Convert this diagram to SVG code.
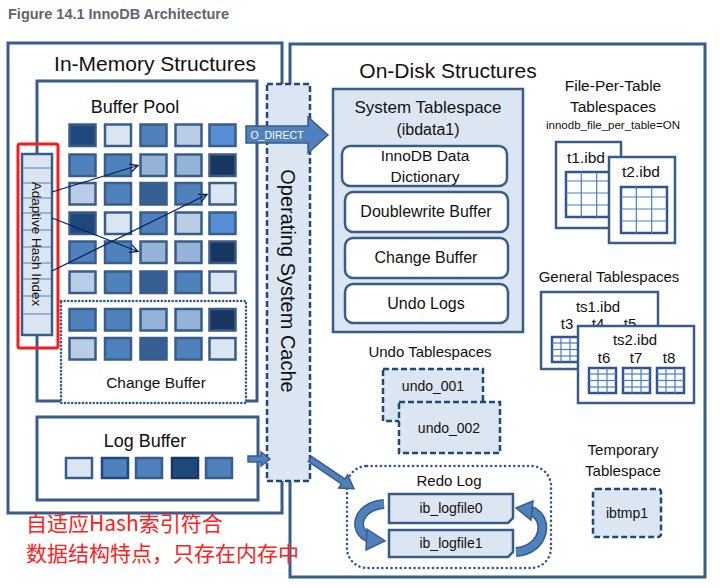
<svg xmlns="http://www.w3.org/2000/svg" width="720" height="588" viewBox="0 0 720 588">
<style>
text{font-family:"Liberation Sans",Arial,sans-serif;fill:#111}
.t{text-anchor:middle}
.box{fill:#fff;stroke:#385d8a;stroke-width:3}
.sq{stroke:#385d8a;stroke-width:2.5}
.D1{fill:#1f497d}.VD{fill:#17375e}.DM{fill:#366092}.M{fill:#4f81bd}.B{fill:#558ed5}.LM{fill:#95b3d7}.L{fill:#b9cde5}.VL{fill:#dce6f2}
.rbox{fill:#fff;stroke:#385d8a;stroke-width:2.5}
.dash{fill:#dce6f2;stroke:#1f497d;stroke-width:2.5;stroke-dasharray:6 3}
.dot{fill:none;stroke:#2f5597;stroke-width:2.5;stroke-dasharray:0.1 4.5;stroke-linecap:round}
.dot2{fill:#fff;stroke:#2f5597;stroke-width:2.5;stroke-dasharray:0.1 3.5;stroke-linecap:round}
.gout{fill:#fff;stroke:#2f5597;stroke-width:2.5}
.gin{stroke:#4a7ebb;stroke-width:1.2}
.blk{fill:#4f81bd;stroke:#385d8a;stroke-width:1.5}
.lnk{fill:none;stroke:#002060;stroke-width:1.3}
.cn{font-family:"Noto Sans CJK SC","Liberation Sans",sans-serif;fill:#ff2020;font-size:21px}
</style>
<defs>
<marker id="ah" markerWidth="10" markerHeight="10" refX="9" refY="5" orient="auto" markerUnits="userSpaceOnUse"><path d="M1,1 L9,5 L1,9" fill="none" stroke="#002060" stroke-width="1.3"/></marker>
</defs>
<rect width="720" height="588" fill="#fff"/>
<text x="8" y="19" style="font-weight:bold;font-size:14.5px;fill:#5e6470">Figure 14.1 InnoDB Architecture</text>

<g id="in-memory">
<rect class="box" x="8" y="43" width="274" height="470"/>
<text class="t" x="155" y="71" style="font-size:21px">In-Memory Structures</text>
</g>

<g id="on-disk">
<rect class="box" x="290" y="44" width="415" height="533"/>
<text class="t" x="448" y="78" style="font-size:21px">On-Disk Structures</text>
</g>

<g id="buffer-pool">
<rect class="box" x="37" y="81" width="220" height="320"/>
<text class="t" x="135" y="113" style="font-size:18px">Buffer Pool</text>
<rect class="sq D1" x="69.5" y="124.5" width="26" height="21.5"/>
<rect class="sq VL" x="105" y="124.5" width="26" height="21.5"/>
<rect class="sq M" x="140.5" y="124.5" width="26" height="21.5"/>
<rect class="sq L" x="175.5" y="124.5" width="26" height="21.5"/>
<rect class="sq B" x="209.5" y="124.5" width="26" height="21.5"/>
<rect class="sq M" x="69.5" y="154.5" width="26" height="21.5"/>
<rect class="sq M" x="105" y="154.5" width="26" height="21.5"/>
<rect class="sq LM" x="140.5" y="154.5" width="26" height="21.5"/>
<rect class="sq LM" x="175.5" y="154.5" width="26" height="21.5"/>
<rect class="sq VD" x="209.5" y="154.5" width="26" height="21.5"/>
<rect class="sq L" x="69.5" y="183" width="26" height="21.5"/>
<rect class="sq M" x="105" y="183" width="26" height="21.5"/>
<rect class="sq DM" x="140.5" y="183" width="26" height="21.5"/>
<rect class="sq M" x="175.5" y="183" width="26" height="21.5"/>
<rect class="sq VL" x="209.5" y="183" width="26" height="21.5"/>
<rect class="sq D1" x="69.5" y="212.5" width="26" height="21.5"/>
<rect class="sq VL" x="105" y="212.5" width="26" height="21.5"/>
<rect class="sq M" x="140.5" y="212.5" width="26" height="21.5"/>
<rect class="sq L" x="175.5" y="212.5" width="26" height="21.5"/>
<rect class="sq B" x="209.5" y="212.5" width="26" height="21.5"/>
<rect class="sq M" x="69.5" y="241.5" width="26" height="21.5"/>
<rect class="sq M" x="105" y="241.5" width="26" height="21.5"/>
<rect class="sq LM" x="140.5" y="241.5" width="26" height="21.5"/>
<rect class="sq LM" x="175.5" y="241.5" width="26" height="21.5"/>
<rect class="sq VD" x="209.5" y="241.5" width="26" height="21.5"/>
<rect class="sq L" x="69.5" y="271.5" width="26" height="21.5"/>
<rect class="sq M" x="105" y="271.5" width="26" height="21.5"/>
<rect class="sq DM" x="140.5" y="271.5" width="26" height="21.5"/>
<rect class="sq M" x="175.5" y="271.5" width="26" height="21.5"/>
<rect class="sq VL" x="209.5" y="271.5" width="26" height="21.5"/>
</g>

<g id="change-buffer-mem">
<rect class="dot2" x="61" y="301" width="185" height="102"/>
<rect class="sq M" x="69.5" y="309" width="26" height="21.5"/>
<rect class="sq M" x="105" y="309" width="26" height="21.5"/>
<rect class="sq LM" x="140.5" y="309" width="26" height="21.5"/>
<rect class="sq LM" x="175.5" y="309" width="26" height="21.5"/>
<rect class="sq VD" x="209.5" y="309" width="26" height="21.5"/>
<rect class="sq L" x="69.5" y="338" width="26" height="21.5"/>
<rect class="sq M" x="105" y="338" width="26" height="21.5"/>
<rect class="sq DM" x="140.5" y="338" width="26" height="21.5"/>
<rect class="sq M" x="175.5" y="338" width="26" height="21.5"/>
<rect class="sq VL" x="209.5" y="338" width="26" height="21.5"/>
<text class="t" x="156" y="388" style="font-size:15.5px">Change Buffer</text>
</g>

<g id="adaptive-hash-index">
<rect x="22" y="154" width="30" height="181" fill="#dce6f2" stroke="#385d8a" stroke-width="2.5"/>
<g stroke="#4f81bd" stroke-width="1">
<line x1="23" y1="168" x2="51" y2="168"/><line x1="23" y1="183" x2="51" y2="183"/>
<line x1="23" y1="198" x2="51" y2="198"/><line x1="23" y1="213" x2="51" y2="213"/>
<line x1="23" y1="230" x2="51" y2="230"/><line x1="23" y1="247" x2="51" y2="247"/>
<line x1="23" y1="263" x2="51" y2="263"/><line x1="23" y1="279" x2="51" y2="279"/>
<line x1="23" y1="296" x2="51" y2="296"/><line x1="23" y1="314" x2="51" y2="314"/>
</g>
<text class="t" transform="translate(31.5,244) rotate(90)" style="font-size:13.5px">Adaptive Hash Index</text>
<rect x="18" y="144" width="40" height="204" rx="2" fill="none" stroke="#ff1a1a" stroke-width="3"/>
</g>

<g id="log-buffer">
<rect class="box" x="37" y="417" width="221" height="83"/>
<text class="t" x="145" y="447" style="font-size:18px">Log Buffer</text>
<rect class="sq VL" x="66" y="458" width="26" height="20"/>
<rect x="102" y="458" width="26" height="20" fill="#4f81bd" stroke="#1f497d" stroke-width="2.5"/>
<rect class="sq M" x="136" y="458" width="26" height="20"/>
<rect x="172" y="458" width="26" height="20" fill="#1f497d" stroke="#17375e" stroke-width="2.5"/>
<rect class="sq M" x="206" y="458" width="26" height="20"/>
</g>

<g id="os-cache">
<rect class="dash" x="267" y="84" width="43" height="397"/>
<text class="t" transform="translate(281,281) rotate(90)" style="font-size:20px">Operating System Cache</text>
</g>

<g id="system-tablespace">
<rect x="333" y="89" width="190" height="243" fill="#dce6f2" stroke="#385d8a" stroke-width="2.5"/>
<text class="t" x="428" y="113" style="font-size:17px">System Tablespace</text>
<text class="t" x="428" y="135" style="font-size:16px">(ibdata1)</text>
<rect class="rbox" x="342" y="146" width="165" height="40" rx="8"/>
<text class="t" x="425" y="161" style="font-size:15.5px">InnoDB Data</text>
<text class="t" x="425" y="182" style="font-size:15.5px">Dictionary</text>
<rect class="rbox" x="345" y="192" width="163" height="40" rx="8"/>
<text class="t" x="426" y="217" style="font-size:16px">Doublewrite Buffer</text>
<rect class="rbox" x="345" y="238" width="163" height="40" rx="8"/>
<text class="t" x="426" y="263" style="font-size:16px">Change Buffer</text>
<rect class="rbox" x="345" y="284" width="163" height="39" rx="8"/>
<text class="t" x="426" y="309" style="font-size:16px">Undo Logs</text>
</g>

<g id="file-per-table">
<text class="t" x="613" y="91" style="font-size:15.5px">File-Per-Table</text>
<text class="t" x="613" y="112" style="font-size:15.5px">Tablespaces</text>
<text class="t" x="613" y="129" style="font-size:11.5px">innodb_file_per_table=ON</text>
<rect class="rbox" x="556" y="142" width="65" height="86"/>
<text class="t" x="586" y="163" style="font-size:15.5px">t1.ibd</text>
<rect class="gout" x="566" y="172" width="46" height="45"/>
<g class="gin"><line x1="581.3" y1="172" x2="581.3" y2="217"/><line x1="596.7" y1="172" x2="596.7" y2="217"/><line x1="566" y1="181" x2="612" y2="181"/><line x1="566" y1="193" x2="612" y2="193"/><line x1="566" y1="205" x2="612" y2="205"/></g>
<rect class="rbox" x="609" y="157" width="66" height="86"/>
<text class="t" x="641" y="177" style="font-size:15.5px">t2.ibd</text>
<rect class="gout" x="621" y="187" width="46" height="46"/>
<g class="gin"><line x1="636.3" y1="187" x2="636.3" y2="233"/><line x1="651.7" y1="187" x2="651.7" y2="233"/><line x1="621" y1="197" x2="667" y2="197"/><line x1="621" y1="209" x2="667" y2="209"/><line x1="621" y1="221" x2="667" y2="221"/></g>
</g>

<g id="general-tablespaces">
<text class="t" x="609" y="282" style="font-size:15px">General Tablespaces</text>
<rect class="rbox" x="541" y="292" width="117" height="77"/>
<text class="t" x="598" y="312" style="font-size:15px">ts1.ibd</text>
<text class="t" x="567" y="329" style="font-size:15px">t3</text>
<text class="t" x="598" y="329" style="font-size:15px">t4</text>
<text class="t" x="630" y="329" style="font-size:15px">t5</text>
<rect class="gout" x="552" y="337" width="27" height="25"/>
<g class="gin"><line x1="561" y1="337" x2="561" y2="362"/><line x1="570" y1="337" x2="570" y2="362"/><line x1="552" y1="343" x2="579" y2="343"/><line x1="552" y1="349.5" x2="579" y2="349.5"/><line x1="552" y1="356" x2="579" y2="356"/></g>
<rect class="rbox" x="578" y="326" width="116" height="77"/>
<text class="t" x="635" y="345" style="font-size:15px">ts2.ibd</text>
<text class="t" x="604" y="363" style="font-size:15px">t6</text>
<text class="t" x="636" y="363" style="font-size:15px">t7</text>
<text class="t" x="669" y="363" style="font-size:15px">t8</text>
<rect class="gout" x="589" y="368" width="27" height="25"/>
<g class="gin"><line x1="598" y1="368" x2="598" y2="393"/><line x1="607" y1="368" x2="607" y2="393"/><line x1="589" y1="374" x2="616" y2="374"/><line x1="589" y1="380.5" x2="616" y2="380.5"/><line x1="589" y1="387" x2="616" y2="387"/></g>
<rect class="gout" x="623" y="368" width="27" height="25"/>
<g class="gin"><line x1="632" y1="368" x2="632" y2="393"/><line x1="641" y1="368" x2="641" y2="393"/><line x1="623" y1="374" x2="650" y2="374"/><line x1="623" y1="380.5" x2="650" y2="380.5"/><line x1="623" y1="387" x2="650" y2="387"/></g>
<rect class="gout" x="657" y="368" width="27" height="25"/>
<g class="gin"><line x1="666" y1="368" x2="666" y2="393"/><line x1="675" y1="368" x2="675" y2="393"/><line x1="657" y1="374" x2="684" y2="374"/><line x1="657" y1="380.5" x2="684" y2="380.5"/><line x1="657" y1="387" x2="684" y2="387"/></g>
</g>

<g id="undo-tablespaces">
<text class="t" x="430" y="357" style="font-size:15px">Undo Tablespaces</text>
<rect class="dash" x="383" y="369" width="100" height="52"/>
<text class="t" x="433" y="391" style="font-size:14px">undo_001</text>
<rect class="dash" x="399" y="402" width="101" height="51"/>
<text class="t" x="449" y="433" style="font-size:14px">undo_002</text>
</g>

<g id="redo-log">
<rect class="dot" x="347" y="466" width="204" height="102" rx="20"/>
<text class="t" x="449" y="486" style="font-size:15px">Redo Log</text>
<path d="M389,494 H513 V518 L508,523 H389 Z" fill="#dce6f2" stroke="#385d8a" stroke-width="2.5"/>
<text class="t" x="451" y="513" style="font-size:14px">ib_logfile0</text>
<path d="M389,530 H513 V552 L508,557 H389 Z" fill="#dce6f2" stroke="#385d8a" stroke-width="2.5"/>
<text class="t" x="451" y="548" style="font-size:14px">ib_logfile1</text>
</g>

<g id="temporary-tablespace">
<text class="t" x="623" y="455" style="font-size:15px">Temporary</text>
<text class="t" x="623" y="476" style="font-size:15px">Tablespace</text>
<rect class="dash" x="593" y="489" width="68" height="48" rx="3"/>
<text class="t" x="627" y="518" style="font-size:14px">ibtmp1</text>
</g>

<g id="connectors">
<path class="lnk" d="M52,192 L138,165.5" marker-end="url(#ah)"/>
<path class="lnk" d="M52,218 L138,251.5" marker-end="url(#ah)"/>
<path class="lnk" d="M52,271 L207,194.5" marker-end="url(#ah)"/>
<polygon class="blk" points="246,126 308,126 308,117 328,135 308,153 308,143 246,143"/>
<text class="t" x="277" y="139" style="font-size:10.5px;fill:#fff">O_DIRECT</text>
<polygon class="blk" points="248,456 261,456 261,452 270,459 261,466 261,462 248,462"/>
<polygon class="blk" transform="translate(310,459) rotate(34)" points="0,-3 40,-3 40,-8 53,0 40,8 40,3 0,3"/>
<path d="M384,504 C356,506 352,532 370,538" fill="none" stroke="#385d8a" stroke-width="10"/>
<path d="M384,504 C356,506 352,532 370,538" fill="none" stroke="#4f81bd" stroke-width="7"/>
<polygon class="blk" points="367,529 385,541 366,550"/>
<path d="M516,552 C545,550 550,518 531,511" fill="none" stroke="#385d8a" stroke-width="10"/>
<path d="M516,552 C545,550 550,518 531,511" fill="none" stroke="#4f81bd" stroke-width="7"/>
<polygon class="blk" points="533,501 516,508 531,520"/>
</g>

<g id="note">
<text class="cn" x="26" y="531">自适应Hash索引符合</text>
<text class="cn" x="26" y="561">数据结构特点，只存在内存中</text>
</g>
</svg>
